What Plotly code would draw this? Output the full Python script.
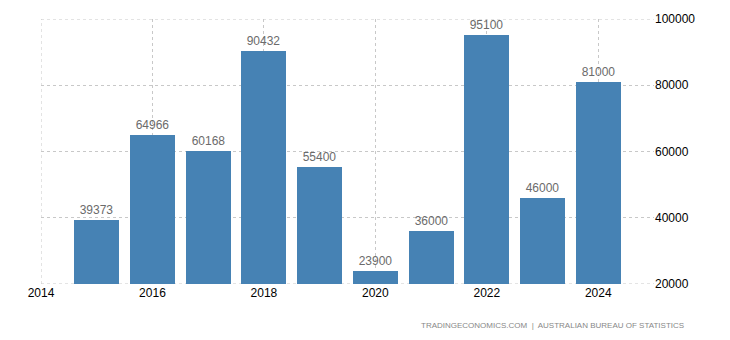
import plotly.graph_objects as go

years = [2015, 2016, 2017, 2018, 2019, 2020, 2021, 2022, 2023, 2024]
values = [39373, 64966, 60168, 90432, 55400, 23900, 36000, 95100, 46000, 81000]
x_ticks = [2014, 2016, 2018, 2020, 2022, 2024]
y_ticks = [20000, 40000, 60000, 80000, 100000]
source = "TRADINGECONOMICS.COM  |  AUSTRALIAN BUREAU OF STATISTICS"

x_range = [2014, 2025]
y_range = [20000, 100000]
grid_col = "#c8c8c8"

fig = go.Figure()
fig.add_trace(go.Bar(
    x=years, y=values, width=0.81,
    marker=dict(color="#4682B4", line=dict(width=0)),
    text=[str(v) for v in values], textposition="outside",
    textfont=dict(family="Liberation Sans", size=12, color="#6b6b6b"),
    cliponaxis=False,
))
grid = dict(color=grid_col, width=1, dash="dot")
shapes = [
    dict(type="line", xref="x", yref="y", x0=x_range[0], x1=x_range[1], y0=y_range[0], y1=y_range[0], line=grid, layer="below"),
    dict(type="line", xref="x", yref="y", x0=x_range[0], x1=x_range[1], y0=y_range[1], y1=y_range[1], line=grid, layer="below"),
    dict(type="line", xref="x", yref="y", x0=x_range[0], x1=x_range[0], y0=y_range[0], y1=y_range[1], line=grid, layer="below"),
]
fig.update_layout(
    width=730, height=340,
    margin=dict(l=41, r=76, t=19, b=56),
    paper_bgcolor="white", plot_bgcolor="white",
    showlegend=False, bargap=0,
    shapes=shapes,
    xaxis=dict(range=x_range, tickvals=x_ticks, ticktext=[str(t) for t in x_ticks],
               showgrid=True, gridcolor=grid_col, griddash="dot", gridwidth=1,
               zeroline=False, showline=False, ticks="", ticklen=4,
               tickfont=dict(family="Liberation Sans", size=12, color="#000000")),
    yaxis=dict(range=y_range, tickvals=y_ticks, ticktext=[str(t) for t in y_ticks],
               side="right", showgrid=True, gridcolor=grid_col, griddash="dot", gridwidth=1,
               zeroline=False, showline=False, ticks="",
               tickfont=dict(family="Liberation Sans", size=12, color="#000000")),
    annotations=[dict(text=source, xref="paper", yref="paper", x=(686-41)/613, y=-(325-284)/265,
                      xanchor="right", yanchor="middle", showarrow=False,
                      font=dict(family="Liberation Sans", size=8, color="#888888"))],
)
fig.write_html("out.html")
